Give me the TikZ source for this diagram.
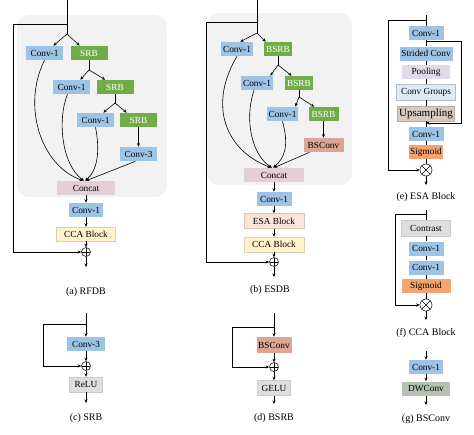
\documentclass[tikz,border=0pt]{standalone}
\usepackage{fontspec}
\setmainfont{Liberation Serif}
\usetikzlibrary{arrows.meta}

\definecolor{convblue}{HTML}{9DC3E6}
\definecolor{srbgreen}{HTML}{70AD47}
\definecolor{catpink}{HTML}{E3CFD7}
\definecolor{ccayel}{HTML}{FFF2CC}
\definecolor{esapink}{HTML}{FBE5D6}
\definecolor{bsred}{HTML}{DDA594}
\definecolor{bggray}{HTML}{F2F2F2}
\definecolor{poolpurp}{HTML}{E2D9EC}
\definecolor{grpblue}{HTML}{DEEBF7}
\definecolor{upbrown}{HTML}{D8CABD}
\definecolor{sigorange}{HTML}{F4A46C}
\definecolor{actgray}{HTML}{DEDEDE}
\definecolor{dwgreen}{HTML}{B4C2B4}

\tikzset{
  box/.style={minimum height=14, inner sep=1pt, font=\fontsize{9.3}{11}\selectfont},
  conv/.style={box, fill=convblue},
  srb/.style={box, fill=srbgreen, text=white},
  cat/.style={box, fill=catpink},
  cca/.style={box, fill=ccayel, draw=ccayel!70!gray, line width=0.4pt},
  esa/.style={box, fill=esapink, draw=esapink!70!gray, line width=0.4pt},
  bsconv/.style={box, fill=bsred},
  pool/.style={box, fill=poolpurp},
  grp/.style={box, fill=grpblue, draw=grpblue!60!gray, line width=0.4pt},
  upsm/.style={box, fill=upbrown, draw=upbrown!60!gray, line width=0.4pt, font=\fontsize{11}{13}\selectfont},
  sig/.style={box, fill=sigorange},
  act/.style={box, fill=actgray, draw=actgray!80!gray, line width=0.4pt},
  dw/.style={box, fill=dwgreen},
  sum/.style={circle, draw, inner sep=0pt, minimum size=9, line width=0.5pt,
    path picture={\draw[line width=0.5pt] (path picture bounding box.north) -- (path picture bounding box.south)
      (path picture bounding box.west) -- (path picture bounding box.east);}},
  prod/.style={circle, draw, inner sep=0pt, minimum size=12, line width=0.5pt,
    path picture={\draw[line width=0.5pt] (path picture bounding box.north east) -- (path picture bounding box.south west)
      (path picture bounding box.north west) -- (path picture bounding box.south east);}},
  arr/.style={-{Stealth[length=3.5pt,width=3pt]}},
  caption/.style={font=\fontsize{10}{12}\selectfont}
}

\begin{document}
\begin{tikzpicture}[x=1pt,y=-1pt,line width=0.6pt]
\useasboundingbox (0,0) rectangle (474,434);

% (a) RFDB
\fill[bggray, rounded corners=12] (17,15) rectangle (167,197);
\node[conv, minimum width=37] (ac1) at (44.5,53) {Conv-1};
\node[srb, minimum width=37] (as1) at (89,53) {SRB};
\node[conv, minimum width=37] (ac2) at (71.5,87) {Conv-1};
\node[srb, minimum width=37] (as2) at (115,87) {SRB};
\node[conv, minimum width=37] (ac3) at (95.5,120) {Conv-1};
\node[srb, minimum width=37] (as3) at (138.5,120) {SRB};
\node[conv, minimum width=37] (ac4) at (138.5,154) {Conv-3};
\node[cat, minimum width=58] (acat) at (86,188) {Concat};
\node[conv, minimum width=34] (ac5) at (86,210) {Conv-1};
\node[cca, minimum width=59] (acca) at (86,234) {CCA Block};
\node[sum] (aadd) at (86,252) {};
\node[caption] (alab) at (86,292) {(a) RFDB};
\coordinate (ain) at (67,0);
\coordinate (asp1) at (67,34);
\coordinate (afb) at (67,24);
\coordinate (afbl) at (13,24);
\coordinate (asp2) at (89,70);
\coordinate (asp3) at (115,103);
\coordinate (aout) at (86,267);

\draw (ain) -- (asp1);
\draw[arr] (asp1) -- ([xshift=-10]ac1.north east);
\draw[arr] (asp1) -- ([xshift=9.5]as1.north west);
\draw (as1) -- (asp2);
\draw[arr] (asp2) -- ([xshift=-10]ac2.north east);
\draw[arr] (asp2) -- ([xshift=9]as2.north west);
\draw (as2) -- (asp3);
\draw[arr] (asp3) -- ([xshift=-11]ac3.north east);
\draw[arr] (asp3) -- ([xshift=7]as3.north west);
\draw[arr] (as3) -- (ac4);
\draw[arr] (ac1.south) .. controls (22,105) and (40,165) .. ([xshift=-3]acat.north);
\draw[arr] ([xshift=-4]ac2.south) .. controls (57,120) and (62,165) .. ([xshift=-2]acat.north);
\draw[arr] (ac3.south) .. controls (100,150) and (98,170) .. ([xshift=-1]acat.north);
\draw[arr] ([xshift=-3]ac4.south) -- (acat.north);
\draw[arr] (acat) -- (ac5);
\draw[arr] (ac5) -- (acca);
\draw[arr] (acca) -- (aadd);
\draw[arr] (aadd) -- (aout);
\draw[arr] (afb) -- (afbl) |- (aadd);

% (b) ESDB
\fill[bggray, rounded corners=12] (207,13) rectangle (352,185);
\node[conv, minimum width=32] (bc1) at (237,49) {Conv-1};
\node[srb, minimum width=28] (bs1) at (278,49) {BSRB};
\node[conv, minimum width=32] (bc2) at (257,83) {Conv-1};
\node[srb, minimum width=28] (bs2) at (299,83) {BSRB};
\node[conv, minimum width=31] (bc3) at (282.5,114) {Conv-1};
\node[srb, minimum width=30] (bs3) at (323.5,114) {BSRB};
\node[bsconv, minimum width=40] (bbs) at (323.5,145) {BSConv};
\node[cat, minimum width=60] (bcat) at (274,175) {Concat};
\node[conv, minimum width=35] (bc4) at (274,199) {Conv-1};
\node[esa, minimum width=60, minimum height=15] (besa) at (274,221) {ESA Block};
\node[cca, minimum width=60, minimum height=15] (bcca) at (274,244.5) {CCA Block};
\node[sum] (badd) at (274,262) {};
\node[caption] (blab) at (270,290) {(b) ESDB};
\coordinate (bin) at (257,0);
\coordinate (bsp1) at (257,33);
\coordinate (bfb) at (257,22);
\coordinate (bfbl) at (206,22);
\coordinate (bsp2) at (278,65);
\coordinate (bsp3) at (299,97);
\coordinate (bout) at (274,277);

\draw (bin) -- (bsp1);
\draw[arr] (bsp1) -- ([xshift=-13]bc1.north east);
\draw[arr] (bsp1) -- ([xshift=2]bs1.north west);
\draw (bs1) -- (bsp2);
\draw[arr] (bsp2) -- ([xshift=-3]bc2.north east);
\draw[arr] (bsp2) -- ([xshift=7]bs2.north west);
\draw (bs2) -- (bsp3);
\draw[arr] (bsp3) -- ([xshift=-3]bc3.north east);
\draw[arr] (bsp3) -- ([xshift=6]bs3.north west);
\draw[arr] (bs3) -- (bbs);
\draw[arr] (bc1.south) .. controls (208,105) and (225,150) .. ([xshift=-3]bcat.north);
\draw[arr] ([xshift=-3]bc2.south) .. controls (244,120) and (252,155) .. ([xshift=-2]bcat.north);
\draw[arr] (bc3.south) .. controls (289,145) and (285,158) .. ([xshift=-1]bcat.north);
\draw[arr] ([xshift=-14]bbs.south) -- (bcat.north);
\draw[arr] (bcat) -- (bc4);
\draw[arr] (bc4) -- (besa);
\draw[arr] (besa) -- (bcca);
\draw[arr] (bcca) -- (badd);
\draw[arr] (badd) -- (bout);
\draw[arr] (bfb) -- (bfbl) |- (badd);

% (e) ESA Block
\node[conv, minimum width=35] (ec1) at (426,33) {Conv-1};
\node[conv, minimum width=53] (estr) at (426,53.5) {Strided Conv};
\node[pool, minimum width=48] (epool) at (426,72) {Pooling};
\node[grp, minimum width=59, minimum height=16] (egrp) at (426,92) {Conv Groups};
\node[upsm, minimum width=57, minimum height=15] (eup) at (426,113.5) {Upsampling};
\node[conv, minimum width=35] (ec2) at (426,134) {Conv-1};
\node[sig, minimum width=32] (esig) at (426,152) {Sigmoid};
\node[prod] (emul) at (426,170) {};
\node[caption] (elab) at (426,197) {(e) ESA Block};
\coordinate (ein) at (426,15);
\coordinate (efb) at (426,20);
\coordinate (efbl) at (388,20);
\coordinate (eskip) at (426,41);
\coordinate (eskr) at (461,41);
\coordinate (eskb) at (461,123);
\coordinate (ejoin) at (426,123);
\coordinate (eout) at (426,185);

\draw (ein) -- (ec1);
\draw (ec1) -- (estr) -- (epool) -- (egrp) -- (eup) -- (ec2) -- (esig) -- (emul);
\draw[arr] (eskip) -- (eskr) -- (eskb) -- (ejoin);
\draw[arr] (efb) -- (efbl) |- (emul);
\draw[arr] (emul) -- (eout);

% (f) CCA Block
\node[act, minimum width=49, minimum height=16] (fctr) at (426,228) {Contrast};
\node[conv, minimum width=35] (fc1) at (426,248.5) {Conv-1};
\node[conv, minimum width=35] (fc2) at (426,267.5) {Conv-1};
\node[sig, minimum width=49] (fsig) at (426,286) {Sigmoid};
\node[prod] (fmul) at (426,305) {};
\node[caption] (flab) at (426,333) {(f) CCA Block};
\coordinate (fin) at (426,210);
\coordinate (ffb) at (426,214);
\coordinate (ffbl) at (395,214);
\coordinate (fout) at (426,320);

\draw (fin) -- (fctr) -- (fc1) -- (fc2) -- (fsig) -- (fmul);
\draw[arr] (ffb) -- (ffbl) |- (fmul);
\draw[arr] (fmul) -- (fout);

% (g) BSConv
\node[conv, minimum width=34] (gc1) at (426,367) {Conv-1};
\node[dw, minimum width=48] (gdw) at (426,388.5) {DWConv};
\node[caption] (glab) at (426,419) {(g) BSConv};
\coordinate (gin) at (426,351);
\coordinate (gout) at (426,405);

\draw[arr] (gin) -- (gc1);
\draw[arr] (gc1) -- (gdw);
\draw[arr] (gdw) -- (gout);

% (c) SRB
\node[conv, minimum width=38] (cc3) at (86,344) {Conv-3};
\node[sum] (cadd) at (86,366) {};
\node[act, minimum width=33, minimum height=15] (crelu) at (86,384.5) {ReLU};
\node[caption] (clab) at (86,418) {(c) SRB};
\coordinate (cin) at (86,313);
\coordinate (cfb) at (86,324);
\coordinate (cfbl) at (43,324);
\coordinate (cout) at (86,403);

\draw[arr] (cin) -- (cc3);
\draw[arr] (cc3) -- (cadd);
\draw[arr] (cadd) -- (crelu);
\draw[arr] (crelu) -- (cout);
\draw[arr] (cfb) -- (cfbl) |- (cadd);

% (d) BSRB
\node[bsconv, minimum width=35, minimum height=16] (dbs) at (274,345) {BSConv};
\node[sum] (dadd) at (274,367) {};
\node[act, minimum width=33, minimum height=15] (dgelu) at (274,388) {GELU};
\node[caption] (dlab) at (274,418) {(d) BSRB};
\coordinate (din) at (274,313);
\coordinate (dfb) at (274,327);
\coordinate (dfbl) at (232,327);
\coordinate (dout) at (274,404);

\draw[arr] (din) -- (dbs);
\draw[arr] (dbs) -- (dadd);
\draw[arr] (dadd) -- (dgelu);
\draw[arr] (dgelu) -- (dout);
\draw[arr] (dfb) -- (dfbl) |- (dadd);
\end{tikzpicture}
\end{document}
